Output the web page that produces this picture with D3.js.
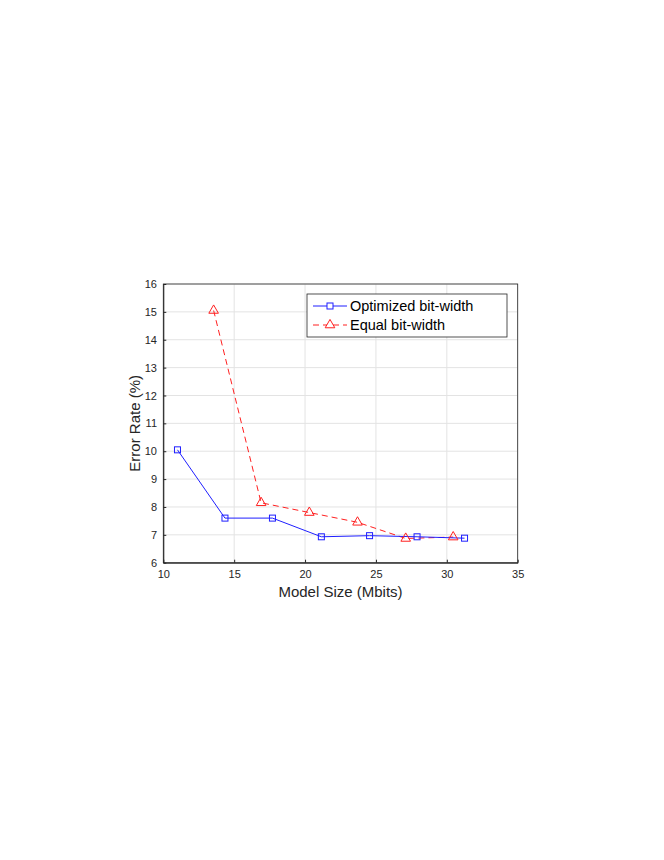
<!DOCTYPE html>
<html><head><meta charset="utf-8">
<script src="https://cdn.jsdelivr.net/npm/d3@7"></script>
<style>body{margin:0;background:#fff}text{font-family:"Liberation Sans",Arial,sans-serif}</style>
</head><body>
<script>
// data
var optX = [11.0, 14.35, 17.7, 21.15, 24.55, 27.9, 31.25];
var optY = [10.05, 7.6, 7.6, 6.93, 6.97, 6.93, 6.88];
var eqX = [13.55, 16.9, 20.3, 23.7, 27.1, 30.45];
var eqY = [15.05, 8.15, 7.8, 7.45, 6.87, 6.92];
var xTicks = [10, 15, 20, 25, 30, 35];
var yTicks = [6, 7, 8, 9, 10, 11, 12, 13, 14, 15, 16];

var svg = d3.select("body").append("svg").attr("width", 664).attr("height", 860);
var x = d3.scaleLinear().domain([10, 35]).range([163.3, 517.7]);
var y = d3.scaleLinear().domain([6, 16]).range([562.7, 284]);

// grid
svg.selectAll(".gx").data(xTicks).enter().append("line")
  .attr("x1", d => x(d)).attr("x2", d => x(d)).attr("y1", y(6)).attr("y2", y(16))
  .attr("stroke", "#e3e3e3");
svg.selectAll(".gy").data(yTicks).enter().append("line")
  .attr("y1", d => y(d)).attr("y2", d => y(d)).attr("x1", x(10)).attr("x2", x(35))
  .attr("stroke", "#e3e3e3");

// axes
var xaxis = d3.axisBottom(x).tickValues(xTicks).tickSize(-3).tickSizeOuter(0);
var yaxis = d3.axisLeft(y).tickValues(yTicks).tickSize(-3).tickSizeOuter(0);
var gx = svg.append("g").attr("transform", "translate(0," + y(6) + ")").call(xaxis);
var gy = svg.append("g").attr("transform", "translate(" + x(10) + ",0)").call(yaxis);
[gx, gy].forEach(function(g) {
  g.selectAll("text").style("font-size", "11px").attr("fill", "#262626");
  g.selectAll("line,path").attr("stroke", "#262626");
});
gx.selectAll("text").attr("dy", "1.1em");
gy.selectAll("text").attr("dx", "-0.3em");
svg.append("rect").attr("x", x(10)).attr("y", y(16)).attr("width", x(35) - x(10)).attr("height", y(6) - y(16))
  .attr("fill", "none").attr("stroke", "#262626").attr("stroke-width", 0.8);

// labels
svg.append("text").attr("x", (x(10) + x(35)) / 2).attr("y", 597).attr("text-anchor", "middle")
  .style("font-size", "15px").attr("fill", "#262626").text("Model Size (Mbits)");
svg.append("text").attr("transform", "translate(140," + (y(11)) + ") rotate(-90)").attr("text-anchor", "middle")
  .style("font-size", "15px").attr("fill", "#262626").text("Error Rate (%)");

// lines
var line = d3.line().x(d => x(d[0])).y(d => y(d[1]));
var opt = optX.map((v, i) => [v, optY[i]]);
var eq = eqX.map((v, i) => [v, eqY[i]]);
svg.append("path").datum(eq).attr("d", line).attr("fill", "none").attr("stroke", "#ff2020")
  .attr("stroke-width", 1).attr("stroke-dasharray", "6,4");
svg.append("path").datum(opt).attr("d", line).attr("fill", "none").attr("stroke", "#1f1fff").attr("stroke-width", 1);

var tri = d3.symbol().type(d3.symbolTriangle).size(40);
svg.selectAll(".tri").data(eq).enter().append("path")
  .attr("transform", d => "translate(" + x(d[0]) + "," + y(d[1]) + ")").attr("d", tri)
  .attr("fill", "none").attr("stroke", "#ff2020");
svg.selectAll(".sq").data(opt).enter().append("rect")
  .attr("x", d => x(d[0]) - 3).attr("y", d => y(d[1]) - 3).attr("width", 6).attr("height", 6)
  .attr("fill", "none").attr("stroke", "#1f1fff");

// legend
var lg = svg.append("g");
lg.append("rect").attr("x", 307).attr("y", 294).attr("width", 200).attr("height", 43)
  .attr("fill", "#fff").attr("stroke", "#262626").attr("stroke-width", 0.8);
lg.append("line").attr("x1", 313).attr("x2", 347).attr("y1", 306).attr("y2", 306).attr("stroke", "#1f1fff");
lg.append("rect").attr("x", 327).attr("y", 303).attr("width", 6).attr("height", 6).attr("fill", "#fff").attr("stroke", "#1f1fff");
lg.append("line").attr("x1", 313).attr("x2", 347).attr("y1", 325).attr("y2", 325).attr("stroke", "#ff2020").attr("stroke-dasharray", "6,4");
lg.append("path").attr("transform", "translate(330,325)").attr("d", tri).attr("fill", "#fff").attr("stroke", "#ff2020");
lg.append("text").attr("x", 350).attr("y", 311).style("font-size", "14.5px").attr("fill", "#000").text("Optimized bit-width");
lg.append("text").attr("x", 350).attr("y", 330).style("font-size", "14.5px").attr("fill", "#000").text("Equal bit-width");
</script>
</body></html>
